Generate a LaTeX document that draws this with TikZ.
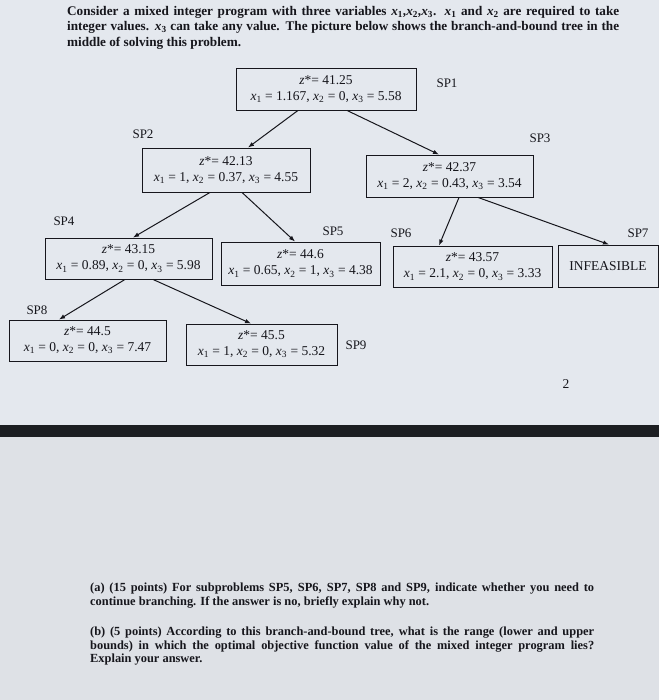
\documentclass[tikz,border=0pt]{standalone}
\usepackage{fontspec}
\setmainfont{Liberation Serif}
\usetikzlibrary{arrows.meta}
\definecolor{paper}{RGB}{228,232,238}
\definecolor{paperlow}{RGB}{222,225,230}
\definecolor{ink}{RGB}{22,22,28}
\definecolor{band}{RGB}{28,30,34}
\newcommand{\xsub}[1]{\textit{x}\textsubscript{#1}}
\newcommand{\zval}{\textit{z}*}

\begin{document}
\begin{tikzpicture}[
  x=1pt, y=-1pt,
  font=\fontsize{13.5}{16}\selectfont,
  every node/.style={text=ink},
  spbox/.style={draw=ink, line width=0.9pt, align=center,
                inner sep=0pt, minimum height=42pt},
  splbl/.style={font=\fontsize{13}{14}\selectfont},
  arr/.style={-{Latex[length=6pt,width=4.5pt]}, line width=1pt, draw=ink},
  para/.style={anchor=north west, align=justify, text width=552pt,
               inner sep=0pt, font=\fontsize{13.2}{15.5}\selectfont\bfseries},
  quest/.style={anchor=north west, align=justify, text width=504pt,
                inner sep=0pt, font=\fontsize{12.4}{13.5}\selectfont\bfseries}
]

\fill[paper] (0,0) rectangle (659,425);
\fill[band] (0,425) rectangle (659,437);
\fill[paperlow] (0,437) rectangle (659,700);
\useasboundingbox (0,0) rectangle (659,700);

\node[para] (intro) at (67,6) {Consider a mixed integer program with three variables
  \xsub{1},\xsub{2},\xsub{3}. \xsub{1} and \xsub{2} are required to take\linebreak
  integer values. \xsub{3} can take any value. The picture below shows the
  branch-and-bound tree in the\linebreak middle of solving this problem.};

\node[spbox, minimum width=180pt] (sp1) at (326,89)
  {\zval= 41.25\\ \xsub{1} = 1.167, \xsub{2} = 0, \xsub{3} = 5.58};
\node[splbl] (sp1lbl) at (447,83) {SP1};

\node[spbox, minimum width=168pt, minimum height=44pt] (sp2) at (226,170)
  {\zval= 42.13\\ \xsub{1} = 1, \xsub{2} = 0.37, \xsub{3} = 4.55};
\node[splbl] (sp2lbl) at (143,134) {SP2};

\node[spbox, minimum width=167pt] (sp3) at (449.5,176)
  {\zval= 42.37\\ \xsub{1} = 2, \xsub{2} = 0.43, \xsub{3} = 3.54};
\node[splbl] (sp3lbl) at (540,138) {SP3};

\node[spbox, minimum width=167pt, minimum height=41pt] (sp4) at (128.5,258.5)
  {\zval= 43.15\\ \xsub{1} = 0.89, \xsub{2} = 0, \xsub{3} = 5.98};
\node[splbl] (sp4lbl) at (64,221) {SP4};

\node[spbox, minimum width=159pt, minimum height=43pt] (sp5) at (300.5,263.5)
  {\zval= 44.6\\ \xsub{1} = 0.65, \xsub{2} = 1, \xsub{3} = 4.38};
\node[splbl] (sp5lbl) at (333,231) {SP5};

\node[spbox, minimum width=159pt, minimum height=41pt] (sp6) at (472.5,266.5)
  {\zval= 43.57\\ \xsub{1} = 2.1, \xsub{2} = 0, \xsub{3} = 3.33};
\node[splbl] (sp6lbl) at (401,233) {SP6};

\node[spbox, minimum width=100pt] (sp7) at (608,266) {INFEASIBLE};
\node[splbl] (sp7lbl) at (638,233) {SP7};

\node[spbox, minimum width=157pt, minimum height=41pt] (sp8) at (87.5,340.5)
  {\zval= 44.5\\ \xsub{1} = 0, \xsub{2} = 0, \xsub{3} = 7.47};
\node[splbl] (sp8lbl) at (37,310) {SP8};

\node[spbox, minimum width=151pt, minimum height=41pt] (sp9) at (261.5,344.5)
  {\zval= 45.5\\ \xsub{1} = 1, \xsub{2} = 0, \xsub{3} = 5.32};
\node[splbl] (sp9lbl) at (356,345) {SP9};

\draw[arr] ([xshift=-28pt]sp1.south) -- ([xshift=22pt]sp2.north);
\draw[arr] ([xshift=21pt]sp1.south) -- ([xshift=-10.5pt]sp3.north);
\draw[arr] ([xshift=-16pt]sp2.south) -- ([xshift=4.5pt]sp4.north);
\draw[arr] ([xshift=16pt]sp2.south) -- ([xshift=-5.5pt]sp5.north);
\draw[arr] ([xshift=9.5pt]sp3.south) -- ([xshift=-33.5pt]sp6.north);
\draw[arr] ([xshift=28.5pt]sp3.south) -- ([xshift=1pt]sp7.north);
\draw[arr] ([xshift=-3.5pt]sp4.south) -- ([xshift=-28.5pt]sp8.north);
\draw[arr] ([xshift=24.5pt]sp4.south) -- ([xshift=-10.5pt]sp9.north);

\node (pagenum) at (566,384) {2};

\node[quest] (qa) at (90,583) {\hangindent=19pt\hangafter=1
  (a) (15 points) For subproblems SP5, SP6, SP7, SP8 and SP9, indicate whether
  you need to\linebreak continue branching. If the answer is no, briefly explain
  why not.};
\node[quest] (qb) at (90,627) {\hangindent=19pt\hangafter=1
  (b) (5 points) According to this branch-and-bound tree, what is the range
  (lower and upper\linebreak bounds) in which the optimal objective function
  value of the mixed integer program lies?\linebreak Explain your answer.};

\end{tikzpicture}
\end{document}
